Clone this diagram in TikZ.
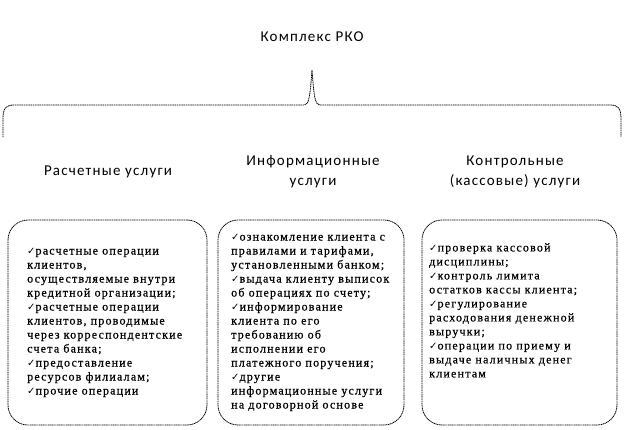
\documentclass[tikz,border=0pt]{standalone}
\usepackage{fontspec}
\setmainfont{Liberation Serif}
\newfontfamily\bodyfont[LetterSpace=10,FakeBold=0.6]{Liberation Serif}
\newfontfamily\hfont[LetterSpace=8]{Carlito}
\newfontfamily\chkfont{DejaVu Sans}
\newcommand{\ck}{{\chkfont\fontsize{10}{10}\selectfont ✓}}
\begin{document}
\begin{tikzpicture}[x=1pt,y=-1pt,
  dotline/.style={draw=black,line width=0.8pt,dash pattern=on 1.2pt off 0.6pt},
  headnode/.style={font=\hfont\fontsize{15}{20}\selectfont,align=center,inner sep=0pt},
  boxnode/.style={dotline,rounded corners=20pt,minimum width=#1,minimum height=205pt,inner sep=0pt},
  listnode/.style={font=\bodyfont\fontsize{12}{14}\selectfont,align=left,anchor=north west,inner sep=0pt}]
\useasboundingbox (0,0) rectangle (624,429);
\node[font=\hfont\fontsize{15}{15}\selectfont,inner sep=0pt] (title) at (312,37) {Комплекс РКО};
% brace
\coordinate (bl) at (3,137);
\coordinate (br) at (621,137);
\coordinate (tip) at (312,70);
\draw[dotline] (bl) -- (3,119) .. controls (3,108) and (6,105) .. (14,105) -- (304,105)
  .. controls (309,105) and (310,97) .. (tip)
  .. controls (314,97) and (315,105) .. (320,105) -- (610,105)
  .. controls (618,105) and (621,108) .. (621,119) -- (br);
\node[headnode] (h1) at (108,172) {Расчетные услуги};
\node[headnode] (h2) at (313,172) {Информационные\\услуги};
\node[headnode] (h3) at (515,172) {Контрольные\\(кассовые) услуги};
\node[boxnode=199pt] (b1) at (107.5,322.5) {};
\node[boxnode=186pt] (b2) at (311,322.5) {};
\node[boxnode=195pt] (b3) at (519.5,322.5) {};
\node[listnode] (t1) at (27,248) {\ck расчетные операции\\клиентов,\\осуществляемые внутри\\кредитной организации;\\\ck расчетные операции\\клиентов, проводимые\\через корреспондентские\\счета банка;\\\ck предоставление\\ресурсов филиалам;\\\ck прочие операции};
\node[listnode] (t2) at (231,234) {\ck ознакомление клиента с\\правилами и тарифами,\\установленными банком;\\\ck выдача клиенту выписок\\об операциях по счету;\\\ck информирование\\клиента по его\\требованию об\\исполнении его\\платежного поручения;\\\ck другие\\информационные услуги\\на договорной основе};
\node[listnode] (t3) at (429,243) {\ck проверка кассовой\\дисциплины;\\\ck контроль лимита\\остатков кассы клиента;\\\ck регулирование\\расходования денежной\\выручки;\\\ck операции по приему и\\выдаче наличных денег\\клиентам};
\end{tikzpicture}
\end{document}
